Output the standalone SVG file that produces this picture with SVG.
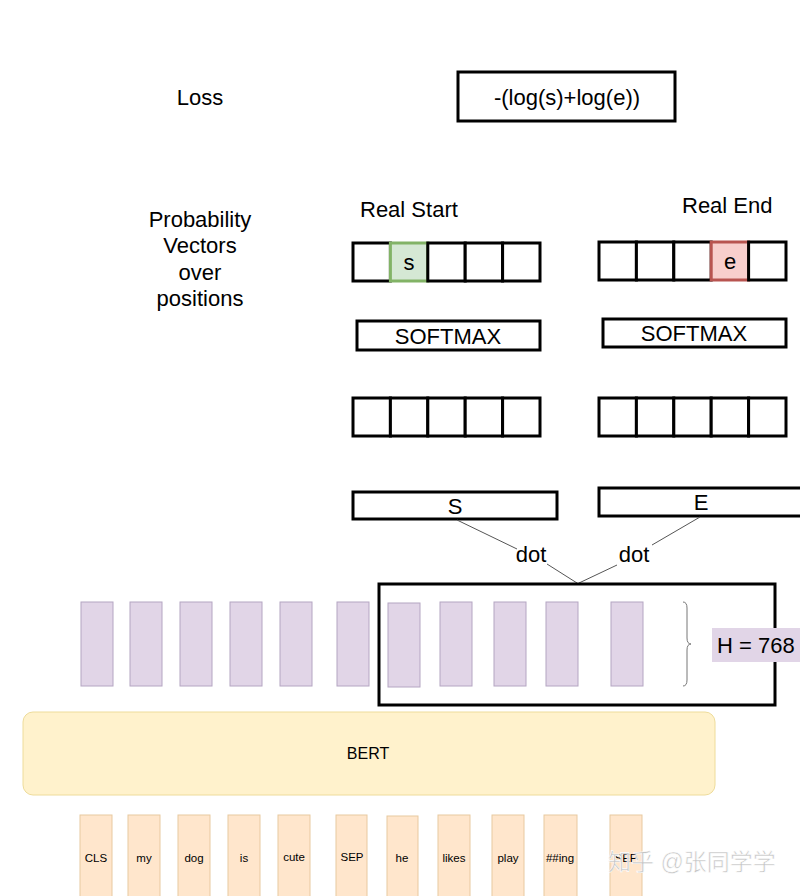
<svg xmlns="http://www.w3.org/2000/svg" width="800" height="896" viewBox="0 0 800 896">
<style>
text{font-family:"Liberation Sans",Arial,sans-serif;fill:#000}
.lbl{font-size:22px}
.c{text-anchor:middle}
.box{fill:#fff;stroke:#000;stroke-width:3}
.cell{fill:#fff;stroke:#000;stroke-width:3}
.hid{fill:#e1d5e7;stroke:#b4a5c2;stroke-width:1}
.tok{fill:#ffe6cc;stroke:#e8c9a0;stroke-width:1}
.tt{font-size:11.5px;text-anchor:middle}
.edge{stroke:#555;stroke-width:1;fill:none}
</style>
<rect width="800" height="896" fill="#fff"/>

<g id="loss-label"><text class="lbl c" x="200" y="105">Loss</text></g>
<g id="loss-box">
<rect class="box" x="458" y="72" width="217" height="49"/>
<text class="lbl c" x="567" y="105">-(log(s)+log(e))</text>
</g>

<g id="prob-label">
<text class="lbl c" x="200" y="227">Probability</text>
<text class="lbl c" x="200" y="253">Vectors</text>
<text class="lbl c" x="200" y="280">over</text>
<text class="lbl c" x="200" y="306">positions</text>
</g>

<g id="real-start-label"><text class="lbl" x="360" y="217">Real Start</text></g>
<g id="real-end-label"><text class="lbl" x="682" y="213">Real End</text></g>

<g id="start-prob">
<rect class="cell" x="353" y="243" width="37.4" height="38"/>
<rect x="390.4" y="243" width="37.4" height="38" fill="#d5e8d4" stroke="#82b366" stroke-width="3"/>
<rect class="cell" x="427.8" y="243" width="37.4" height="38"/>
<rect class="cell" x="465.2" y="243" width="37.4" height="38"/>
<rect class="cell" x="502.6" y="243" width="37.4" height="38"/>
<text class="lbl c" x="409" y="270">s</text>
</g>
<g id="end-prob">
<rect class="cell" x="599" y="242" width="37.4" height="38"/>
<rect class="cell" x="636.4" y="242" width="37.4" height="38"/>
<rect class="cell" x="673.8" y="242" width="37.4" height="38"/>
<rect x="711.2" y="242" width="37.4" height="38" fill="#f8cecc" stroke="#b85450" stroke-width="3"/>
<rect class="cell" x="748.6" y="242" width="37.4" height="38"/>
<text class="lbl c" x="730" y="269">e</text>
</g>

<g id="softmax-start">
<rect class="box" x="357" y="321" width="183" height="29"/>
<text class="lbl c" x="448" y="344">SOFTMAX</text>
</g>
<g id="softmax-end">
<rect class="box" x="603" y="319" width="183" height="28"/>
<text class="lbl c" x="694" y="341">SOFTMAX</text>
</g>

<g id="start-logits">
<rect class="cell" x="353" y="398" width="37.4" height="38"/>
<rect class="cell" x="390.4" y="398" width="37.4" height="38"/>
<rect class="cell" x="427.8" y="398" width="37.4" height="38"/>
<rect class="cell" x="465.2" y="398" width="37.4" height="38"/>
<rect class="cell" x="502.6" y="398" width="37.4" height="38"/>
</g>
<g id="end-logits">
<rect class="cell" x="599" y="398" width="37.4" height="38"/>
<rect class="cell" x="636.4" y="398" width="37.4" height="38"/>
<rect class="cell" x="673.8" y="398" width="37.4" height="38"/>
<rect class="cell" x="711.2" y="398" width="37.4" height="38"/>
<rect class="cell" x="748.6" y="398" width="37.4" height="38"/>
</g>

<g id="S-vector">
<rect class="box" x="353" y="492" width="204" height="27"/>
<text class="lbl c" x="455" y="514">S</text>
</g>
<g id="E-vector">
<rect class="box" x="599" y="488" width="210" height="28"/>
<text class="lbl c" x="701" y="510">E</text>
</g>

<g id="connectors">
<line class="edge" x1="457" y1="520" x2="517" y2="549"/>
<line class="edge" x1="547" y1="564" x2="577" y2="583"/>
<line class="edge" x1="700" y1="517" x2="652" y2="545"/>
<line class="edge" x1="617" y1="565" x2="579" y2="583"/>
<text class="lbl c" x="531" y="562">dot</text>
<text class="lbl c" x="634" y="562">dot</text>
</g>

<g id="selection-box">
<rect class="box" x="379" y="584" width="396" height="121" fill="none"/>
</g>

<g id="hidden-states">
<rect class="hid" x="81" y="602" width="32" height="84"/>
<rect class="hid" x="130" y="602" width="32" height="84"/>
<rect class="hid" x="180" y="602" width="32" height="84"/>
<rect class="hid" x="230" y="602" width="32" height="84"/>
<rect class="hid" x="280" y="602" width="32" height="84"/>
<rect class="hid" x="337" y="602" width="32" height="84"/>
<rect class="hid" x="388" y="603" width="32" height="84"/>
<rect class="hid" x="440" y="602" width="32" height="84"/>
<rect class="hid" x="494" y="602" width="32" height="84"/>
<rect class="hid" x="546" y="602" width="32" height="84"/>
<rect class="hid" x="611" y="602" width="32" height="84"/>
</g>

<g id="brace">
<path d="M683,602 Q687,602 687,608 L687,638 Q687,644 691,644 Q687,644 687,650 L687,680 Q687,686 683,686" fill="none" stroke="#777" stroke-width="1"/>
</g>
<g id="H-label">
<rect x="712" y="628" width="88" height="34" fill="#e1d5e7"/>
<text class="lbl" x="717" y="653">H = 768</text>
</g>

<g id="bert">
<rect x="23" y="712" width="692" height="83" rx="10" fill="#fff2cc" stroke="#eedc9a" stroke-width="1"/>
<text class="c" x="368" y="759" font-size="16">BERT</text>
</g>

<g id="tokens">
<rect class="tok" x="80" y="815" width="32" height="90"/><text class="tt" x="96" y="862">CLS</text>
<rect class="tok" x="128" y="815" width="32" height="90"/><text class="tt" x="144" y="862">my</text>
<rect class="tok" x="178" y="815" width="32" height="90"/><text class="tt" x="194" y="862">dog</text>
<rect class="tok" x="228" y="815" width="32" height="90"/><text class="tt" x="244" y="862">is</text>
<rect class="tok" x="278" y="815" width="32" height="90"/><text class="tt" x="294" y="861">cute</text>
<rect class="tok" x="336" y="815" width="31" height="90"/><text class="tt" x="352" y="861">SEP</text>
<rect class="tok" x="387" y="816" width="31" height="90"/><text class="tt" x="402" y="862">he</text>
<rect class="tok" x="438" y="815" width="32" height="90"/><text class="tt" x="454" y="862">likes</text>
<rect class="tok" x="492" y="815" width="32" height="90"/><text class="tt" x="508" y="862">play</text>
<rect class="tok" x="544" y="815" width="33" height="90"/><text class="tt" x="560" y="862">##ing</text>
<rect class="tok" x="610" y="815" width="32" height="90"/><text class="tt" x="626" y="862">SEP</text>
</g>

<g id="watermark">
<text x="608" y="870" font-size="23" style="font-family:'Liberation Sans','Noto Sans CJK SC',sans-serif;fill:#c4c4c4;stroke:#fff;stroke-width:0.6">知乎 @张同学学</text>
</g>
</svg>
